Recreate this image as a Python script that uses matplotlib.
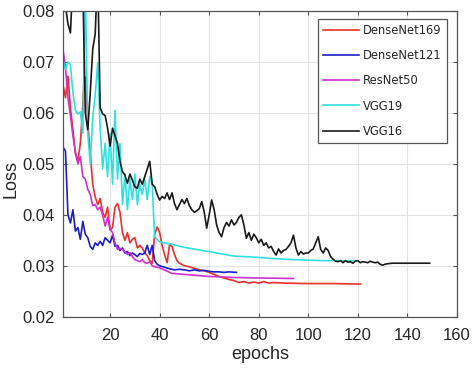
import matplotlib
matplotlib.use('Agg')
import matplotlib.pyplot as plt

# DenseNet169 (red)
d169_ep = [1, 2, 3, 4, 5, 6, 7, 8, 9, 9.5, 10, 11, 12, 13, 14, 15, 16, 17, 18, 19,
           20, 21, 22, 23, 24, 25, 26, 27, 28, 29, 30, 31, 32, 33, 34, 35, 36, 37, 38, 39,
           40, 41, 42, 43, 44, 45, 46, 47, 48, 50, 52, 54, 56, 58, 60, 62, 64, 66, 68, 70,
           72, 74, 76, 78, 80, 82, 84, 86, 90, 100, 110, 121]
d169_loss = [0.0655, 0.0630, 0.0672, 0.0610, 0.0567, 0.0520, 0.0505, 0.0540, 0.0615, 0.0665,
             0.0670, 0.0580, 0.0520, 0.0460, 0.0435, 0.0420, 0.0432, 0.0405, 0.0395, 0.0415,
             0.0370, 0.0375, 0.0415, 0.0422, 0.0405, 0.0365, 0.0350, 0.0365, 0.0345, 0.0352,
             0.0355, 0.0335, 0.0340, 0.0335, 0.0325, 0.0320, 0.0310, 0.0305, 0.0362, 0.0376,
             0.0365, 0.0340, 0.0322, 0.0306, 0.0341, 0.0338, 0.0322, 0.0310, 0.0305, 0.0300,
             0.0298, 0.0295, 0.0292, 0.0290, 0.0287, 0.0283, 0.0279, 0.0276, 0.0273, 0.0271,
             0.0267, 0.0269, 0.0266, 0.0268, 0.0266, 0.0269, 0.0266, 0.0267, 0.0266, 0.0265,
             0.0265, 0.0264]

# DenseNet121 (blue)
d121_ep = [1, 2, 3, 4, 5, 6, 7, 8, 9, 10, 11, 12, 13, 14, 15, 16, 17, 18, 19, 20,
           21, 22, 23, 24, 25, 26, 27, 28, 29, 30, 31, 32, 33, 34, 35, 36, 37, 38, 39, 40,
           42, 44, 46, 48, 50, 52, 54, 56, 58, 60, 62, 64, 66, 68, 71]
d121_loss = [0.0533, 0.0525, 0.0400, 0.0384, 0.0410, 0.0368, 0.0375, 0.0352, 0.0387, 0.0362,
             0.0355, 0.0338, 0.0332, 0.0345, 0.0340, 0.0348, 0.0340, 0.0355, 0.0350, 0.0345,
             0.0360, 0.0338, 0.0340, 0.0330, 0.0335, 0.0325, 0.0328, 0.0320, 0.0325, 0.0322,
             0.0318, 0.0324, 0.0322, 0.0325, 0.0340, 0.0322, 0.0340, 0.0310, 0.0303, 0.0300,
             0.0297, 0.0294, 0.0292, 0.0293, 0.0292, 0.0290, 0.0292, 0.0290, 0.0291, 0.0289,
             0.0288, 0.0288, 0.0287, 0.0288, 0.0287]

# ResNet50 (magenta)
r50_ep = [1, 2, 3, 4, 5, 6, 7, 8, 9, 10, 11, 12, 13, 14, 15, 16, 17, 18, 19, 20,
          21, 22, 23, 24, 25, 26, 27, 28, 29, 30, 31, 32, 33, 34, 35, 36, 37, 38, 40, 45,
          50, 55, 60, 65, 70, 80, 94]
r50_loss = [0.0724, 0.0690, 0.0630, 0.0595, 0.0555, 0.0524, 0.0500, 0.0514, 0.0475, 0.0470,
            0.0450, 0.0440, 0.0418, 0.0420, 0.0410, 0.0415, 0.0400, 0.0378, 0.0395, 0.0372,
            0.0365, 0.0345, 0.0332, 0.0334, 0.0332, 0.0328, 0.0322, 0.0326, 0.0318, 0.0312,
            0.0310, 0.0308, 0.0312, 0.0306, 0.0305, 0.0308, 0.0300, 0.0298, 0.0296, 0.0285,
            0.0283, 0.0281, 0.0279, 0.0278, 0.0277, 0.0276, 0.0275]

# VGG19 (cyan)
v19_ep = [1, 2, 3, 4, 5, 6, 7, 8, 9, 10, 11, 12, 13, 14, 15, 16, 17, 18, 19, 20,
          21, 22, 23, 24, 25, 26, 27, 28, 29, 30, 31, 32, 33, 34, 35, 36, 37, 38, 40, 45,
          50, 56, 62, 70, 78, 86, 94, 100, 106, 112, 119]
v19_loss = [0.0704, 0.0685, 0.0700, 0.0695, 0.0640, 0.0605, 0.0598, 0.0602, 0.0560, 0.0850,
            0.0560, 0.0500, 0.0590, 0.0635, 0.0698, 0.0570, 0.0490, 0.0540, 0.0475, 0.0560,
            0.0460, 0.0605, 0.0470, 0.0540, 0.0420, 0.0480, 0.0410, 0.0470, 0.0430, 0.0480,
            0.0420, 0.0460, 0.0440, 0.0470, 0.0430, 0.0475, 0.0460, 0.0356, 0.0347, 0.0342,
            0.0336, 0.0331, 0.0326, 0.0319, 0.0317, 0.0314, 0.0312, 0.0311, 0.0310, 0.0310,
            0.0310]

# VGG16 (black)
v16_ep = list(range(1, 133)) + [134, 137, 140, 145, 149]
v16_loss = [0.0850, 0.0810, 0.0775, 0.0757, 0.0860, 0.0900, 0.0900, 0.0900, 0.0850, 0.0600,
            0.0567, 0.0640, 0.0725, 0.0755, 0.0880, 0.0610, 0.0598, 0.0595, 0.0570, 0.0535,
            0.0570, 0.0555, 0.0540, 0.0505, 0.0485, 0.0478, 0.0462, 0.0480, 0.0468, 0.0455,
            0.0452, 0.0470, 0.0460, 0.0475, 0.0490, 0.0505, 0.0460, 0.0455, 0.0440, 0.0429,
            0.0436, 0.0432, 0.0443, 0.0430, 0.0443, 0.0422, 0.0410, 0.0420, 0.0430, 0.0422,
            0.0432, 0.0418, 0.0410, 0.0405, 0.0408, 0.0412, 0.0426, 0.0405, 0.0374, 0.0400,
            0.0429, 0.0410, 0.0380, 0.0365, 0.0357, 0.0375, 0.0385, 0.0378, 0.0390, 0.0380,
            0.0385, 0.0395, 0.0400, 0.0380, 0.0354, 0.0365, 0.0350, 0.0362, 0.0355, 0.0345,
            0.0352, 0.0340, 0.0345, 0.0335, 0.0338, 0.0328, 0.0321, 0.0333, 0.0325, 0.0330,
            0.0332, 0.0338, 0.0345, 0.0360, 0.0335, 0.0321, 0.0328, 0.0323, 0.0325, 0.0325,
            0.0330, 0.0333, 0.0345, 0.0357, 0.0332, 0.0325, 0.0335, 0.0330, 0.0318, 0.0313,
            0.0309, 0.0308, 0.0310, 0.0306, 0.0310, 0.0307, 0.0308, 0.0305, 0.0309, 0.0310,
            0.0306, 0.0308, 0.0307, 0.0306, 0.0309, 0.0307, 0.0306, 0.0307, 0.0303, 0.0301,
            0.0303, 0.0304, 0.0305, 0.0305, 0.0305, 0.0305, 0.0305]

tick_col = '#262626'
plt.rcParams['font.family'] = ['Liberation Sans', 'DejaVu Sans']

fig = plt.figure(figsize=(4.74, 3.74), dpi=100)
ax = fig.add_axes([0.1329, 0.1532, 0.8312, 0.8174])

ax.plot(d169_ep, d169_loss, color='#e8302e', lw=1.2, label='DenseNet169')
ax.plot(d121_ep, d121_loss, color='#1c1cc8', lw=1.2, label='DenseNet121')
ax.plot(r50_ep, r50_loss, color='#d030d0', lw=1.2, label='ResNet50')
ax.plot(v19_ep, v19_loss, color='#30e0e0', lw=1.2, label='VGG19')
ax.plot(v16_ep, v16_loss, color='#1a1a1a', lw=1.2, label='VGG16')

ax.set_xlim(1, 160)
ax.set_ylim(0.02, 0.08)
ax.set_xticks([20, 40, 60, 80, 100, 120, 140, 160])
ax.set_yticks([0.02, 0.03, 0.04, 0.05, 0.06, 0.07, 0.08])
ax.set_yticklabels(['0.02', '0.03', '0.04', '0.05', '0.06', '0.07', '0.08'])
ax.grid(True, color='#e3e3e3', lw=0.8)
ax.set_axisbelow(True)
ax.tick_params(direction='in', top=True, right=True, length=3, color='#555555',
               labelcolor=tick_col, labelsize=12)
ax.tick_params(axis='x', pad=8)
ax.tick_params(axis='y', pad=6)
for s in ax.spines.values():
    s.set_color('#555555')
    s.set_linewidth(0.9)

ax.set_xlabel('epochs', fontsize=13, color=tick_col, labelpad=2)
ax.set_ylabel('Loss', fontsize=13, color=tick_col)
ax.yaxis.set_label_coords(-0.11, 0.45)

leg = ax.legend(loc='upper right', bbox_to_anchor=(0.9746, 0.9738), borderaxespad=0,
                fancybox=False, edgecolor='#555555', framealpha=1,
                prop={'family': 'DejaVu Sans', 'size': 8.3}, handlelength=3.1,
                handletextpad=0.35, labelspacing=1.05, borderpad=0.45)
leg.get_frame().set_linewidth(0.9)
for t in leg.get_texts():
    t.set_color(tick_col)

fig.savefig('out.png', dpi=100)
